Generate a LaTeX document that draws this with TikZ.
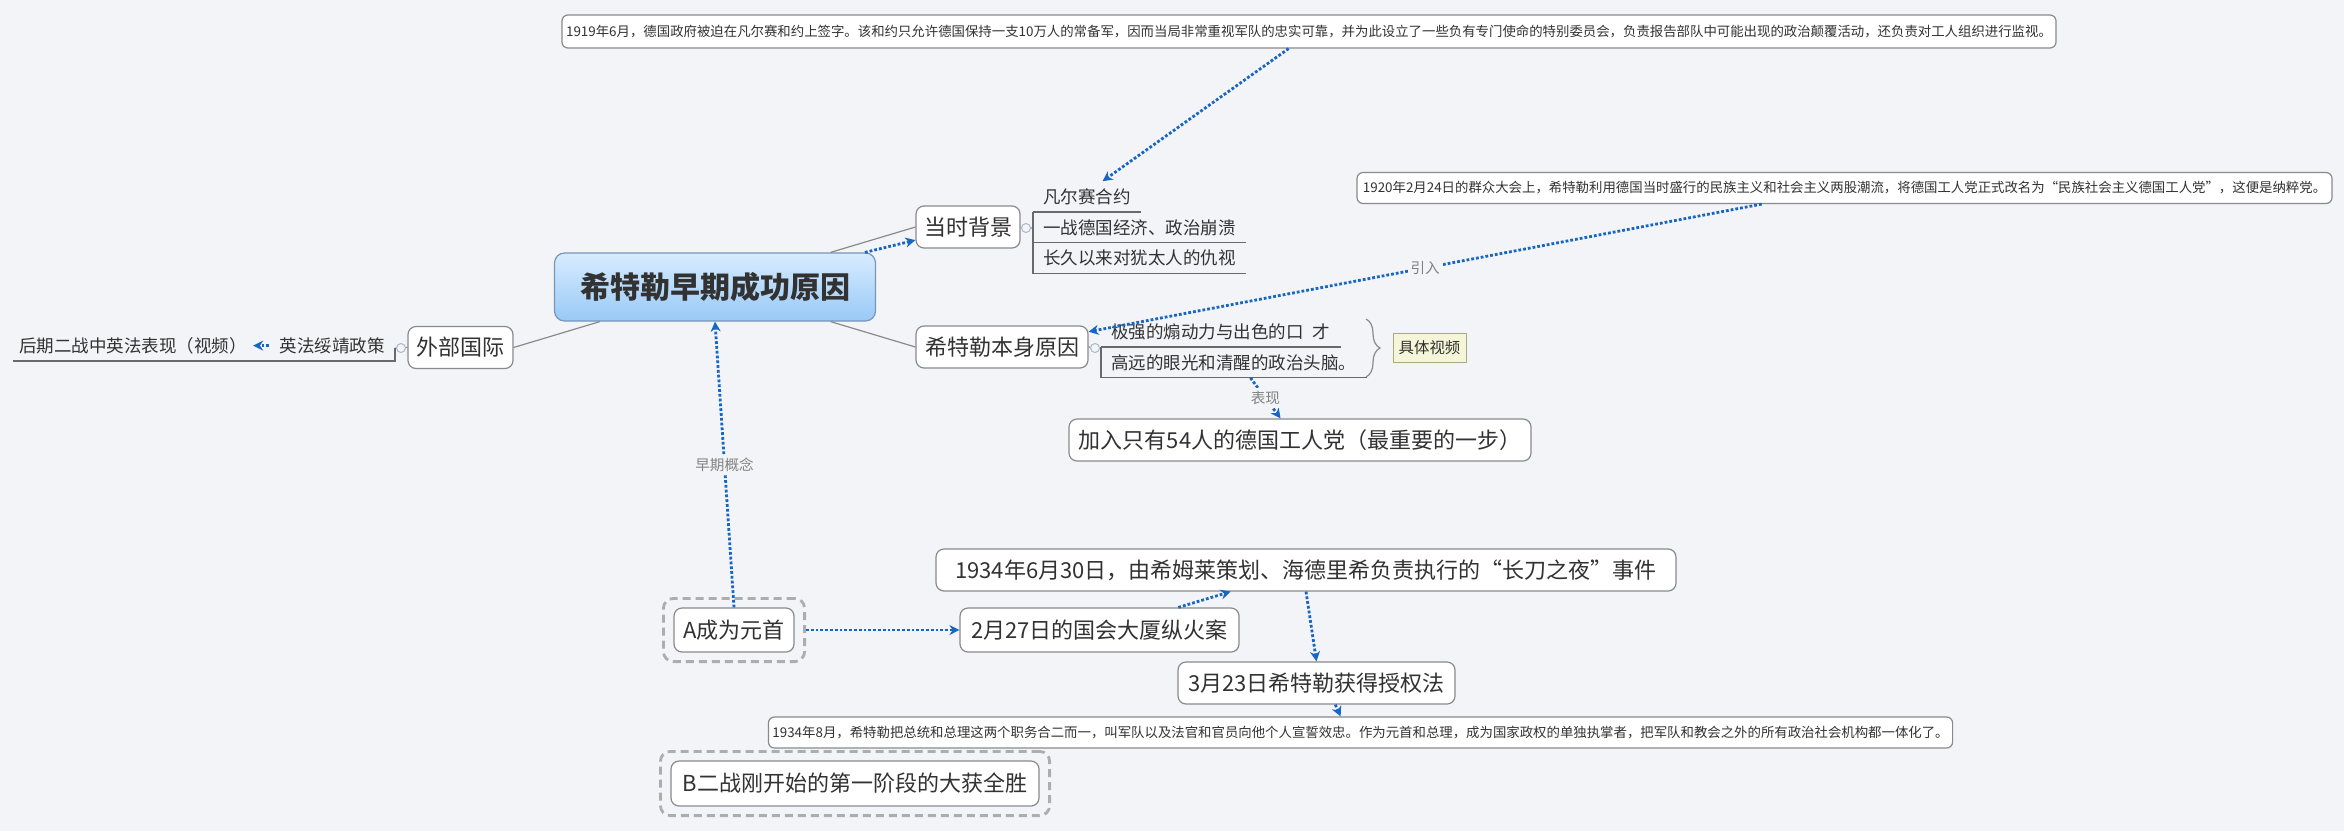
\documentclass[tikz,border=0pt]{standalone}
\usepackage{fontspec}
\setmainfont{Noto Sans CJK SC}
\usepackage{tikz}
\usetikzlibrary{positioning, arrows.meta, fit, backgrounds, decorations.pathreplacing}

\definecolor{pagebg}{RGB}{243,244,248}
\definecolor{ink}{RGB}{50,50,50}
\definecolor{framegray}{RGB}{138,138,138}
\definecolor{rulegray}{RGB}{105,105,105}
\definecolor{linkblue}{RGB}{24,102,196}
\definecolor{topictop}{RGB}{216,236,255}
\definecolor{topicbottom}{RGB}{152,201,246}
\definecolor{topicedge}{RGB}{118,150,188}
\definecolor{memofill}{RGB}{245,245,215}
\definecolor{memoedge}{RGB}{170,170,130}
\definecolor{tagray}{RGB}{130,130,130}
\definecolor{toggleedge}{RGB}{170,185,205}

\begin{document}
\begin{tikzpicture}[
        x=0.5pt, y=-0.5pt,
        >={Stealth[length=5pt, width=5pt]},
        text=ink,
        central/.style={rectangle, rounded corners=5pt, draw=topicedge, line width=0.6pt, top color=topictop, bottom color=topicbottom, minimum width=160.5pt, minimum height=34pt, font=\fontsize{15}{18}\selectfont\bfseries},
        box/.style={rectangle, rounded corners=4pt, draw=framegray, line width=0.6pt, fill=white, minimum height=21pt, inner xsep=3pt, font=\fontsize{11}{13}\selectfont},
        leaf/.style={anchor=south west, inner xsep=5pt, inner ysep=0pt, minimum height=15pt, font=\fontsize{8.75}{10}\selectfont},
        note/.style={box, rounded corners=3pt, minimum height=15.5pt, inner xsep=2pt, font=\fontsize{6.7}{8}\selectfont},
        memo/.style={rectangle, draw=memoedge, fill=memofill, line width=0.5pt, minimum width=36.5pt, minimum height=14.5pt, inner sep=1pt, font=\fontsize{7.7}{9}\selectfont},
        zone/.style={rectangle, rounded corners=5pt, draw=framegray!70, line width=1.4pt, dash pattern=on 4pt off 2.5pt, inner xsep=5pt, inner ysep=4.5pt},
        toggle/.style={circle, draw=toggleedge, fill=pagebg, line width=0.5pt, minimum size=4.5pt, inner sep=0pt},
        branch/.style={draw=framegray, line width=0.6pt},
        underline/.style={draw=rulegray, line width=0.6pt},
        link/.style={->, draw=linkblue, line width=1.4pt, dash pattern=on 1.4pt off 1pt},
        tag/.style={fill=pagebg, text=tagray, inner sep=1.5pt, font=\fontsize{7.3}{9}\selectfont}
    ]
        % Page
        \useasboundingbox[fill=pagebg] (0,0) rectangle (2344,831);

        % Central topic
        \node[central] (root) at (715,287) {希特勒早期成功原因};

        % Main topics
        \node[box, minimum width=52pt] (context) at (968,227) {当时背景};
        \node[box, minimum width=86pt] (personal) at (1002,347) {希特勒本身原因};
        \node[box, minimum width=52.5pt] (foreign) at (460.5,347.5) {外部国际};
        \node[box, minimum width=231pt] (joinparty) at (1300,440) {加入只有54人的德国工人党（最重要的一步）};

        % Notes
        \node[note, minimum width=747pt, minimum height=16.5pt] (treaty) at (1309,31.5) {1919年6月，德国政府被迫在凡尔赛和约上签字。该和约只允许德国保持一支10万人的常备军，因而当局非常重视军队的忠实可靠，并为此设立了一些负有专门使命的特别委员会，负责报告部队中可能出现的政治颠覆活动，还负责对工人组织进行监视。};
        \node[note, minimum width=487.5pt] (rename) at (1844.5,188) {1920年2月24日的群众大会上，希特勒利用德国当时盛行的民族主义和社会主义两股潮流，将德国工人党正式改名为“民族社会主义德国工人党”，这便是纳粹党。};
        \node[note, minimum width=590.5pt] (merge) at (1360.5,732.5) {1934年8月，希特勒把总统和总理这两个职务合二而一，叫军队以及法官和官员向他个人宣誓效忠。作为元首和总理，成为国家政权的单独执掌者，把军队和教会之外的所有政治社会机构都一体化了。};

        % Context leaves
        \node[leaf] (versailles) at (1033,212) {凡尔赛合约};
        \node[leaf, below=0pt of versailles.south west, anchor=north west] (collapse) {一战德国经济、政治崩溃};
        \node[leaf, below=0pt of collapse.south west, anchor=north west] (hatred) {长久以来对犹太人的仇视};

        % Personal leaves
        \node[leaf] (oratory) at (1101,347) {极强的煽动力与出色的口\enspace 才};
        \node[leaf, below=0pt of oratory.south west, anchor=north west] (vision) {高远的眼光和清醒的政治头脑。};
        \coordinate (bracetop) at (1366,319);
        \coordinate (bracebot) at (1366,377);
        \draw[branch, decorate, decoration={brace, amplitude=7pt}] (bracetop) -- (bracebot);
        \node[memo] (video) at (1429.5,347.5) {具体视频};

        % Foreign leaves
        \node[leaf, anchor=south east] (appease) at (395,361) {英法绥靖政策};
        \node[leaf, inner xsep=3pt, left=8pt of appease] (lateruk) {后期二战中英法表现（视频）};

        % Lower chain
        \node[box, minimum width=60pt, minimum height=22pt] (leader) at (734,630) {A成为元首};
        \node[zone, fit=(leader)] (leaderzone) {};
        \node[box, minimum width=139.5pt, minimum height=22pt] (fire) at (1099.5,630) {2月27日的国会大厦纵火案};
        \node[box, minimum width=370pt] (purge) at (1306,570) {1934年6月30日，由希姆莱策划、海德里希负责执行的“长刀之夜”事件};
        \node[box, minimum width=138.5pt] (enabling) at (1316.5,683) {3月23日希特勒获得授权法};
        \node[box, minimum width=184pt, minimum height=22.5pt] (victory) at (855,783.5) {B二战刚开始的第一阶段的大获全胜};
        \node[zone, fit=(victory)] (victoryzone) {};

        % Branch lines
        \draw[branch] (root) -- (context.west);
        \draw[branch] (root) -- (personal.west);
        \draw[branch] (root) -- (foreign.east);

        % Toggles and brackets
        \node[toggle] (contexttoggle) at (1026,228) {};
        \node[toggle] (personaltoggle) at (1095,348) {};
        \node[toggle] (foreigntoggle) at (401,348) {};

        \draw[branch] (context.east) -- (contexttoggle) -- (contexttoggle -| versailles.west);
        \draw[underline] (versailles.south west) -- (hatred.south west);
        \draw[underline] (versailles.south west) -- (versailles.south east);
        \draw[underline] (collapse.south west) -- (collapse.south east);
        \draw[underline] (hatred.south west) -- (hatred.south east);

        \draw[branch] (personal.east) -- (personaltoggle) -- (personaltoggle -| oratory.west);
        \draw[underline] (oratory.south west) -- (vision.south west);
        \draw[underline] (oratory.south west) -- (oratory.south east);
        \draw[underline] (vision.south west) -- (vision.south east);

        \draw[branch] (foreign.west) -- (foreigntoggle) -- (foreigntoggle -| appease.east);
        \draw[underline] (foreigntoggle -| appease.east) -- (appease.south east) -- (lateruk.south west);

        % Relations
        \draw[link] (root.13) -- (context.194);
        \draw[link] (treaty.220) -- (versailles.45);
        \draw[link] (rename.191) -- (personal.10) node[tag, midway] {引入};
        \draw[link] (vision.317) -- (joinparty.132) node[tag, midway] {表现};
        \draw[link] (appease.west) -- (lateruk.east);
        \draw[link] (leader.north) -- (root.south) node[tag, midway] {早期概念};
        \draw[link] (leaderzone.east) -- (fire.west);
        \draw[link] (fire.16) -- (purge.196);
        \draw[link] (purge.south) -- (enabling.north);
        \draw[link] (enabling.311) -- (merge.141);
    \end{tikzpicture}
\end{document}
